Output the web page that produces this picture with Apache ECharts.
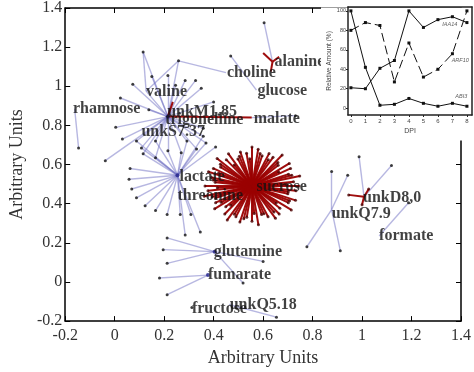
<!DOCTYPE html>
<html><head><meta charset="utf-8">
<script src="https://cdn.jsdelivr.net/npm/echarts@6/dist/echarts.min.js"></script>
<style>html,body{margin:0;padding:0;background:#fff}#c{width:474px;height:372px}</style>
</head><body><div id="c"></div>
<script>
// ---- main plot ticks ----
const xTicks = [-0.2, 0, 0.2, 0.4, 0.6, 0.8, 1, 1.2, 1.4];
const yTicks = [-0.2, 0, 0.2, 0.4, 0.6, 0.8, 1, 1.2, 1.4];

// ---- hubs (network centres) ----
const hubUnkM = [0.215, 0.845];
const hubLactate = [0.254, 0.545];
const hubValine = [0.127, 0.975];
const hubSucrose = [0.555, 0.49];
const hubAlanine = [0.638, 1.125];
const hubCholine = [0.450, 1.070];
const hubGlucose = [0.573, 0.980];
const hubMalate = [0.554, 0.840];
const hubRhamnose = [-0.162, 0.885];
const hubGlutamine = [0.404, 0.155];
const hubFumarate = [0.377, 0.035];
const hubFructose = [0.312, -0.130];
const hubUnkQ518 = [0.462, -0.115];
const hubUnkD = [1.008, 0.435];
const hubUnkQ79 = [0.877, 0.370];
const hubFormate = [1.069, 0.235];

// ---- leaves ----
const unkMLeaves = [[0.115,1.175],[0.150,1.050],[0.215,1.055],[0.073,1.010],[0.285,1.030],[0.327,1.030],[0.246,1.005],[0.350,0.990],[0.023,0.940],[0.400,0.920],[0.138,0.880],[0.004,0.790],[0.031,0.730],[-0.038,0.620],[0.358,0.785],[0.258,1.130]];
const meshLeaves = [[0.088,0.720],[0.108,0.685],[0.115,0.655],[0.165,0.720],[0.215,0.670],[0.269,0.660],[0.292,0.720],[0.331,0.680],[0.358,0.745],[0.369,0.710],[0.165,0.635]];
const lactateLeaves = [[0.062,0.580],[0.058,0.525],[0.069,0.475],[0.088,0.430],[0.123,0.390],[0.165,0.365],[0.212,0.345],[0.265,0.345],[0.308,0.345],[0.285,0.240],[0.346,0.255],[0.408,0.690]];
const valineLeaves = [[0.115,1.175],[0.258,1.130]];
const cholineLeaves = [[0.258,1.130]];
const glucoseLeaves = [[0.469,1.155]];
const alanineLeaves = [[0.604,1.325]];
const alanineRed = [[0.600,1.170],[0.665,1.150],[0.631,1.075]];
const malateLeaves = [[0.731,0.850]];
const unkMRed = [[0.235,0.920]];
const rhamnoseLeaves = [[-0.146,0.685]];
const glutamineLeaves = [[0.212,0.225],[0.196,0.165],[0.212,0.095],[0.600,0.105],[0.519,-0.005]];
const fumarateLeaves = [[0.181,0.020],[0.212,-0.065]];
const unkQ518Leaves = [[0.654,-0.180]];
const unkDLeaves = [[0.988,0.640],[1.119,0.595]];
const unkDRed = [[0.946,0.445],[1.027,0.475],[1.000,0.395]];
const unkQ79Leaves = [[0.877,0.565],[0.942,0.545],[0.777,0.180],[0.912,0.160]];
const formateLeaves = [[1.188,0.405]];
const sucroseLeaves = [[0.745,0.490],[0.723,0.512],[0.748,0.542],[0.703,0.551],[0.711,0.580],[0.706,0.606],[0.661,0.596],[0.677,0.649],[0.640,0.637],[0.624,0.656],[0.596,0.645],[0.580,0.678],[0.555,0.690],[0.533,0.658],[0.508,0.664],[0.498,0.629],[0.460,0.655],[0.451,0.625],[0.414,0.631],[0.428,0.587],[0.399,0.580],[0.379,0.563],[0.391,0.534],[0.406,0.510],[0.365,0.490],[0.377,0.466],[0.362,0.438],[0.407,0.429],[0.408,0.405],[0.404,0.374],[0.449,0.384],[0.445,0.347],[0.455,0.317],[0.490,0.333],[0.506,0.306],[0.534,0.331],[0.555,0.310],[0.581,0.292],[0.594,0.345],[0.620,0.333],[0.650,0.325],[0.665,0.347],[0.668,0.377],[0.714,0.368],[0.702,0.405],[0.731,0.417],[0.700,0.451],[0.733,0.466],
[0.695,0.499],[0.716,0.545],[0.663,0.562],[0.660,0.610],[0.621,0.625],[0.588,0.657],[0.546,0.630],[0.504,0.642],[0.483,0.598],[0.427,0.602],[0.420,0.556],[0.398,0.521],[0.415,0.481],[0.394,0.435],[0.430,0.407],[0.469,0.392],[0.484,0.346],[0.522,0.323],[0.564,0.350],[0.603,0.348],[0.644,0.357],[0.653,0.404],[0.707,0.415],[0.702,0.461]];

// ---- labels ----
const labelNames = ['alanine','choline','glucose','valine','rhamnose','unkM1.85','trigonelline','malate','unkS7.37','lactate','threonine','sucrose','unkD8,0','unkQ7.9','formate','glutamine','fumarate','fructose','unkQ5.18'];
const labelPos = [[0.646,1.125],[0.454,1.070],[0.577,0.975],[0.127,0.970],[-0.169,0.885],[0.212,0.870],[0.204,0.830],[0.562,0.835],[0.108,0.765],[0.262,0.535],[0.254,0.440],[0.573,0.485],[1.004,0.430],[0.877,0.350],[1.069,0.235],[0.400,0.155],[0.377,0.035],[0.312,-0.135],[0.465,-0.115]];

// ---- inset data ----
const dpi = [0, 1, 2, 3, 4, 5, 6, 7, 8];
const insetYTicks = [0, 20, 40, 60, 80, 100];
const abi3 = [100, 42, 3, 4, 10, 5, 2, 5, 2];
const iaa14 = [21, 20, 41, 49, 100, 83, 91, 94, 88];
const arf10 = [80, 88, 85, 27, 67, 32, 40, 56, 100];
const insetLabelNames = ['IAA14', 'ARF10', 'ABI3'];
const insetLabelPos = [[6.3, 86], [6.95, 49.5], [7.2, 12.4]];

// ---- build edges ----
function edges(hub, leaves) { return leaves.map(l => ({ coords: [hub, l] })); }
const blueEdges = [].concat(
  edges(hubUnkM, unkMLeaves),
  edges(hubUnkM, meshLeaves),
  edges(hubLactate, meshLeaves),
  edges(hubLactate, lactateLeaves),
  edges(hubValine, valineLeaves),
  [{ coords: [hubValine, hubUnkM] }],
  edges(hubCholine, cholineLeaves),
  edges(hubGlucose, glucoseLeaves),
  edges(hubAlanine, alanineLeaves),
  edges(hubMalate, malateLeaves),
  edges(hubRhamnose, rhamnoseLeaves),
  edges(hubGlutamine, glutamineLeaves),
  edges(hubFumarate, fumarateLeaves),
  edges(hubUnkQ518, unkQ518Leaves),
  edges(hubUnkD, unkDLeaves),
  edges(hubUnkQ79, unkQ79Leaves),
  edges(hubFormate, formateLeaves)
);
const redEdges = [].concat(
  edges(hubSucrose, sucroseLeaves),
  edges(hubAlanine, alanineRed),
  [{ coords: [hubUnkM, hubMalate] }],
  edges(hubUnkM, unkMRed),
  edges(hubUnkD, unkDRed)
);
const blackDots = [].concat(unkMLeaves, meshLeaves, lactateLeaves, glucoseLeaves, alanineLeaves, malateLeaves,
  rhamnoseLeaves, glutamineLeaves, fumarateLeaves, unkQ518Leaves, unkDLeaves, unkQ79Leaves, formateLeaves, [hubFructose]);
const hubDots = [hubUnkM, hubLactate, hubGlutamine, hubFumarate];

const serif = 'Liberation Serif';
const frameLine = { onZero: false, lineStyle: { color: '#000', width: 1.5 } };
const insetLine = { onZero: false, lineStyle: { color: '#222', width: 1.5 } };
const chart = echarts.init(document.getElementById('c'), null, { renderer: 'canvas' });
chart.setOption({
  animation: false,
  backgroundColor: '#fff',
  grid: [
    { left: 54, right: 3, top: 6, bottom: 45 },
    { left: 348, right: 2, top: 7, bottom: 257 }
  ],
  xAxis: [
    { gridIndex: 0, type: 'value', min: -0.2, max: 1.4, position: 'bottom', axisLine: frameLine,
      axisTick: { inside: true, length: 5, customValues: xTicks, lineStyle: { color: '#000' } },
      axisLabel: { customValues: xTicks, fontFamily: serif, fontSize: 16, color: '#333', margin: 7 },
      splitLine: { show: false },
      name: 'Arbitrary Units', nameLocation: 'middle', nameGap: 19,
      nameTextStyle: { fontFamily: serif, fontSize: 18, color: '#333' } },
    { gridIndex: 0, type: 'value', min: -0.2, max: 1.4, position: 'top', axisLine: frameLine,
      axisTick: { inside: true, length: 5, customValues: xTicks, lineStyle: { color: '#000' } },
      axisLabel: { show: false }, splitLine: { show: false } },
    { gridIndex: 1, type: 'value', min: -0.2, max: 8.35, position: 'bottom', z: 10, axisLine: insetLine,
      axisTick: { length: 2, customValues: dpi, lineStyle: { color: '#222' } },
      axisLabel: { customValues: dpi, fontSize: 6, color: '#444', margin: 3 },
      splitLine: { show: false },
      name: 'DPI', nameLocation: 'middle', nameGap: 13, nameTextStyle: { fontSize: 7, color: '#444' } },
    { gridIndex: 1, type: 'value', min: -0.2, max: 8.35, position: 'top', z: 10, axisLine: insetLine,
      axisTick: { show: false }, axisLabel: { show: false }, splitLine: { show: false } }
  ],
  yAxis: [
    { gridIndex: 0, type: 'value', min: -0.2, max: 1.4, position: 'left', axisLine: frameLine,
      axisTick: { inside: true, length: 5, customValues: yTicks, lineStyle: { color: '#000' } },
      axisLabel: { customValues: yTicks, fontFamily: serif, fontSize: 16, color: '#333', margin: 3 },
      splitLine: { show: false },
      name: 'Arbitrary Units', nameLocation: 'middle', nameGap: 30, nameRotate: 90,
      nameTextStyle: { fontFamily: serif, fontSize: 18, color: '#333' } },
    { gridIndex: 0, type: 'value', min: -0.2, max: 1.4, position: 'right', axisLine: frameLine,
      axisTick: { inside: true, length: 5, customValues: yTicks, lineStyle: { color: '#000' } },
      axisLabel: { show: false }, splitLine: { show: false } },
    { gridIndex: 1, type: 'value', min: -7, max: 104, position: 'left', z: 10, axisLine: insetLine,
      axisTick: { length: 2, customValues: insetYTicks, lineStyle: { color: '#222' } },
      axisLabel: { customValues: insetYTicks, fontSize: 5.5, color: '#444', margin: 2 },
      splitLine: { show: false },
      name: 'Relative Amount (%)', nameLocation: 'middle', nameGap: 15, nameRotate: 90,
      nameTextStyle: { fontSize: 6.5, color: '#444' } },
    { gridIndex: 1, type: 'value', min: -7, max: 104, position: 'right', z: 10, axisLine: insetLine,
      axisTick: { show: false }, axisLabel: { show: false }, splitLine: { show: false } }
  ],
  graphic: [
    { type: 'rect', z: 5, shape: { x: 321, y: 7.5, width: 148.5, height: 133 },
      style: { fill: '#fff', stroke: null } }
  ],
  series: [
    { type: 'lines', coordinateSystem: 'cartesian2d', xAxisIndex: 0, yAxisIndex: 0, z: 2,
      data: blueEdges, lineStyle: { color: '#7070c4', width: 1.4, opacity: 0.5 } },
    { type: 'lines', coordinateSystem: 'cartesian2d', xAxisIndex: 0, yAxisIndex: 0, z: 3,
      data: redEdges, lineStyle: { color: '#9a0000', width: 2, opacity: 0.95 } },
    { type: 'scatter', xAxisIndex: 0, yAxisIndex: 0, z: 3, symbolSize: 3, silent: true,
      data: sucroseLeaves.concat(unkDRed), itemStyle: { color: '#4a0000' } },
    { type: 'scatter', xAxisIndex: 0, yAxisIndex: 0, z: 4, symbolSize: 3, silent: true,
      data: blackDots, itemStyle: { color: '#111' } },
    { type: 'scatter', xAxisIndex: 0, yAxisIndex: 0, z: 4, symbolSize: 4, silent: true,
      data: hubDots, itemStyle: { color: '#22228a' } },
    { type: 'scatter', xAxisIndex: 0, yAxisIndex: 0, z: 4, symbolSize: 0, silent: true,
      data: labelPos.map((p, i) => ({ value: p, name: labelNames[i] })),
      label: { show: true, position: 'right', distance: 0, formatter: '{b}',
        fontFamily: serif, fontSize: 16, fontWeight: 'bold', color: '#111' } },
    { type: 'line', xAxisIndex: 2, yAxisIndex: 2, z: 10, data: dpi.map((d, i) => [d, abi3[i]]),
      symbol: 'rect', symbolSize: 3, lineStyle: { color: '#111', width: 1 }, itemStyle: { color: '#111' } },
    { type: 'line', xAxisIndex: 2, yAxisIndex: 2, z: 10, data: dpi.map((d, i) => [d, iaa14[i]]),
      symbol: 'rect', symbolSize: 3, lineStyle: { color: '#111', width: 1 }, itemStyle: { color: '#111' } },
    { type: 'line', xAxisIndex: 2, yAxisIndex: 2, z: 10, data: dpi.map((d, i) => [d, arf10[i]]),
      symbol: 'rect', symbolSize: 3, lineStyle: { color: '#111', width: 1, type: [9, 4] }, itemStyle: { color: '#111' } },
    { type: 'scatter', xAxisIndex: 2, yAxisIndex: 2, z: 11, symbolSize: 0, silent: true,
      data: insetLabelPos.map((p, i) => ({ value: p, name: insetLabelNames[i] })),
      label: { show: true, position: 'right', distance: 0, formatter: '{b}', fontSize: 5.5, fontStyle: 'italic', color: '#333' } }
  ]
});
</script></body></html>
